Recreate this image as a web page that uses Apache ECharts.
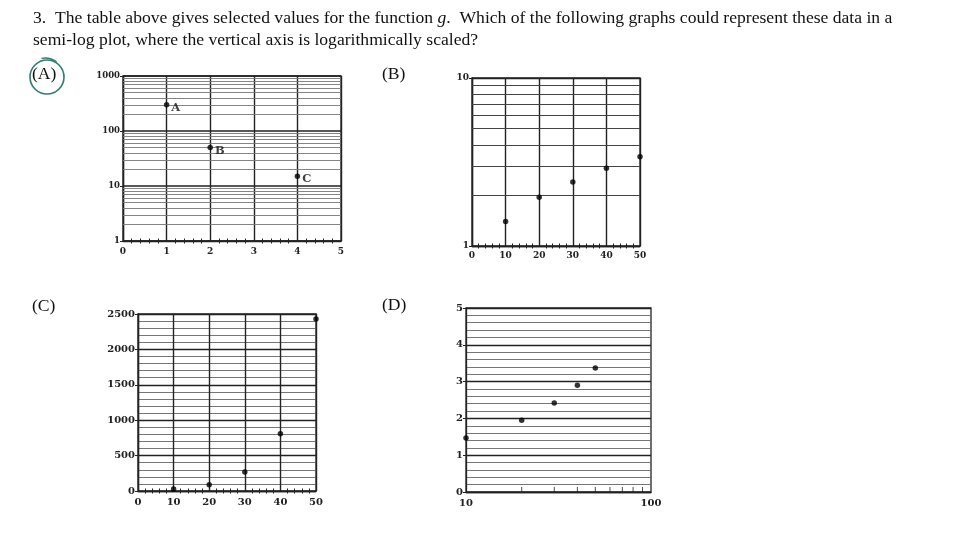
<!DOCTYPE html>
<html><head><meta charset="utf-8">
<script src="https://cdn.jsdelivr.net/npm/echarts@6/dist/echarts.min.js"></script>
<style>html,body{margin:0;padding:0;background:#fff}#c{width:960px;height:546px}</style>
</head><body><div id="c"></div>
<script>
// ---- data ----
const aX = [1, 2, 4];
const aY = [300, 50, 15];
const aNames = ['A', 'B', 'C'];
const aMinorGrid = [2,3,4,5,6,7,8,9,20,30,40,50,60,70,80,90,200,300,400,500,600,700,800,900];

const bX = [10, 20, 30, 40, 50];
const bY = [1.4, 1.95, 2.4, 2.9, 3.4];
const bMinorGrid = [2,3,4,5,6,7,8,9];

const cX = [10, 20, 30, 40, 50];
const cY = [30, 90, 270, 810, 2430];

const dX = [10, 20, 30, 40, 50];
const dY = [1.47, 1.95, 2.42, 2.9, 3.37];
const dMinorTicks = [20, 30, 40, 50, 60, 70, 80, 90];

const chart = echarts.init(document.getElementById('c'), null, {renderer: 'canvas'});
const dark = '#222';
const plain = v => String(v);
const lblA = {fontFamily: 'DejaVu Serif', fontWeight: 'bold', fontSize: 9, color: '#222', formatter: plain};
const lblC = {fontFamily: 'DejaVu Serif', fontWeight: 'bold', fontSize: 10, color: '#222', formatter: plain};

const grids = [
  {left: 123, top: 76, width: 218, height: 165},
  {left: 472, top: 78, width: 168, height: 168},
  {left: 138, top: 314, width: 178, height: 177},
  {left: 466, top: 308, width: 185, height: 184}
].map(g => Object.assign({show: true, borderColor: dark, borderWidth: 1.3, backgroundColor: 'transparent'}, g));

function xLin(gi, max, interval, lbl, main, margin) {
  return {
    type: 'value', gridIndex: gi, min: 0, max: max, interval: interval, position: 'bottom',
    axisLine: {show: main, lineStyle: {color: dark, width: 1.3}},
    axisTick: {show: false, inside: !main},
    minorTick: {show: true, splitNumber: 5, length: 2.5, lineStyle: {color: dark, width: 1}},
    axisLabel: {show: main, margin: margin, ...lbl},
    splitLine: {show: main, lineStyle: {color: dark, width: 1.4}}
  };
}
const xAxes = [
  xLin(0, 5, 1, lblA, true, 6),
  xLin(1, 50, 10, lblA, true, 5),
  xLin(2, 50, 10, lblC, true, 6),
  {type: 'log', logBase: 10, gridIndex: 3, min: 10, max: 100,
   axisLine: {show: true, lineStyle: {color: dark, width: 1.3}},
   axisTick: {show: false}, axisLabel: {margin: 6, ...lblC}, splitLine: {show: false}},
  // duplicates so the minor ticks cross the axis line
  xLin(0, 5, 1, lblA, false, 6),
  xLin(1, 50, 10, lblA, false, 6),
  xLin(2, 50, 10, lblC, false, 6)
];

const yAxes = [
  {type: 'log', logBase: 10, gridIndex: 0, min: 1, max: 1000,
   axisLine: {show: true, lineStyle: {color: dark, width: 1.3}},
   axisTick: {show: true, length: 3, lineStyle: {color: dark}},
   axisLabel: {margin: 3, ...lblA, fontSize: 8.5}, splitLine: {show: true, lineStyle: {color: dark, width: 1.5}}},
  {type: 'log', logBase: 10, gridIndex: 1, min: 1, max: 10,
   axisLine: {show: true, lineStyle: {color: dark, width: 1.3}},
   axisTick: {show: true, length: 3, lineStyle: {color: dark}},
   axisLabel: {margin: 3, ...lblA}, splitLine: {show: true, lineStyle: {color: dark, width: 1.3}}},
  {type: 'value', gridIndex: 2, min: 0, max: 2500, interval: 500,
   axisLine: {show: true, lineStyle: {color: dark, width: 1.3}},
   axisTick: {show: true, length: 3, lineStyle: {color: dark}},
   minorTick: {show: false, splitNumber: 5},
   axisLabel: {margin: 3, ...lblC}, splitLine: {show: true, lineStyle: {color: dark, width: 1.4}},
   minorSplitLine: {show: true, lineStyle: {color: '#666', width: 0.9}}},
  {type: 'value', gridIndex: 3, min: 0, max: 5, interval: 1,
   axisLine: {show: true, lineStyle: {color: dark, width: 1.3}},
   axisTick: {show: true, length: 3, lineStyle: {color: dark}},
   minorTick: {show: false, splitNumber: 5},
   axisLabel: {margin: 3, ...lblC}, splitLine: {show: true, lineStyle: {color: dark, width: 1.4}},
   minorSplitLine: {show: true, lineStyle: {color: '#666', width: 0.9}}}
];

const pt = {type: 'scatter', symbol: 'circle', symbolSize: 5.5, itemStyle: {color: '#000'}, clip: false, z: 5};
const series = [
  Object.assign({}, pt, {xAxisIndex: 0, yAxisIndex: 0,
    data: aX.map((x, i) => ({value: [x, aY[i]], name: aNames[i]})),
    label: {show: true, position: 'right', distance: 2, offset: [0, 3], formatter: '{b}',
      fontFamily: 'DejaVu Serif', fontWeight: 'bold', fontSize: 11.5, color: '#111'}}),
  Object.assign({}, pt, {xAxisIndex: 1, yAxisIndex: 1, data: bX.map((x, i) => [x, bY[i]])}),
  Object.assign({}, pt, {xAxisIndex: 2, yAxisIndex: 2, data: cX.map((x, i) => [x, cY[i]])}),
  Object.assign({}, pt, {xAxisIndex: 3, yAxisIndex: 3, data: dX.map((x, i) => [x, dY[i]])}),
  // minor log grid lines (A, B)
  {type: 'scatter', xAxisIndex: 0, yAxisIndex: 0, data: [], z: 1,
   markLine: {silent: true, symbol: 'none', label: {show: false}, animation: false,
     lineStyle: {type: 'solid', color: '#777', width: 0.9},
     data: aMinorGrid.map(v => ({yAxis: v}))}},
  {type: 'scatter', xAxisIndex: 1, yAxisIndex: 1, data: [], z: 1,
   markLine: {silent: true, symbol: 'none', label: {show: false}, animation: false,
     lineStyle: {type: 'solid', color: '#444', width: 1},
     data: bMinorGrid.map(v => ({yAxis: v}))}},
  // minor ticks on the log x-axis of D
  {type: 'scatter', xAxisIndex: 3, yAxisIndex: 3, symbol: 'rect', symbolSize: [1, 5],
   symbolOffset: [0, -2.5], itemStyle: {color: dark}, clip: false, z: 4,
   data: dMinorTicks.map(v => [v, 0])}
];

const serif = 'Liberation Serif';
const f = '17.6px "' + serif + '"';
const graphic = [
  {type: 'text', left: 33, top: 9, style: {
    text: '3.  The table above gives selected values for the function {i|g}.  Which of the following graphs could represent these data in a',
    font: f, fill: '#111',
    rich: {i: {fontFamily: serif, fontStyle: 'italic', fontSize: 17.6, fill: '#111'}}}},
  {type: 'text', left: 33, top: 31, style: {
    text: 'semi-log plot, where the vertical axis is logarithmically scaled?', font: f, fill: '#111'}},
  {type: 'text', left: 32, top: 65, style: {text: '(A)', font: f, fill: '#111'}},
  {type: 'text', left: 382, top: 65, style: {text: '(B)', font: f, fill: '#111'}},
  {type: 'text', left: 32, top: 297, style: {text: '(C)', font: f, fill: '#111'}},
  {type: 'text', left: 382, top: 296, style: {text: '(D)', font: f, fill: '#111'}},
  {type: 'ellipse', shape: {cx: 47, cy: 77, rx: 17, ry: 17},
   style: {fill: 'none', stroke: '#2c7d72', lineWidth: 1.6}},
  {type: 'arc', shape: {cx: 45, cy: 78, r: 20, startAngle: -1.75, endAngle: -0.95},
   style: {fill: 'none', stroke: '#2c7d72', lineWidth: 1.4}}
];

chart.setOption({
  animation: false,
  backgroundColor: '#fff',
  grid: grids,
  xAxis: xAxes,
  yAxis: yAxes,
  series: series,
  graphic: graphic
});
</script>
</body></html>
